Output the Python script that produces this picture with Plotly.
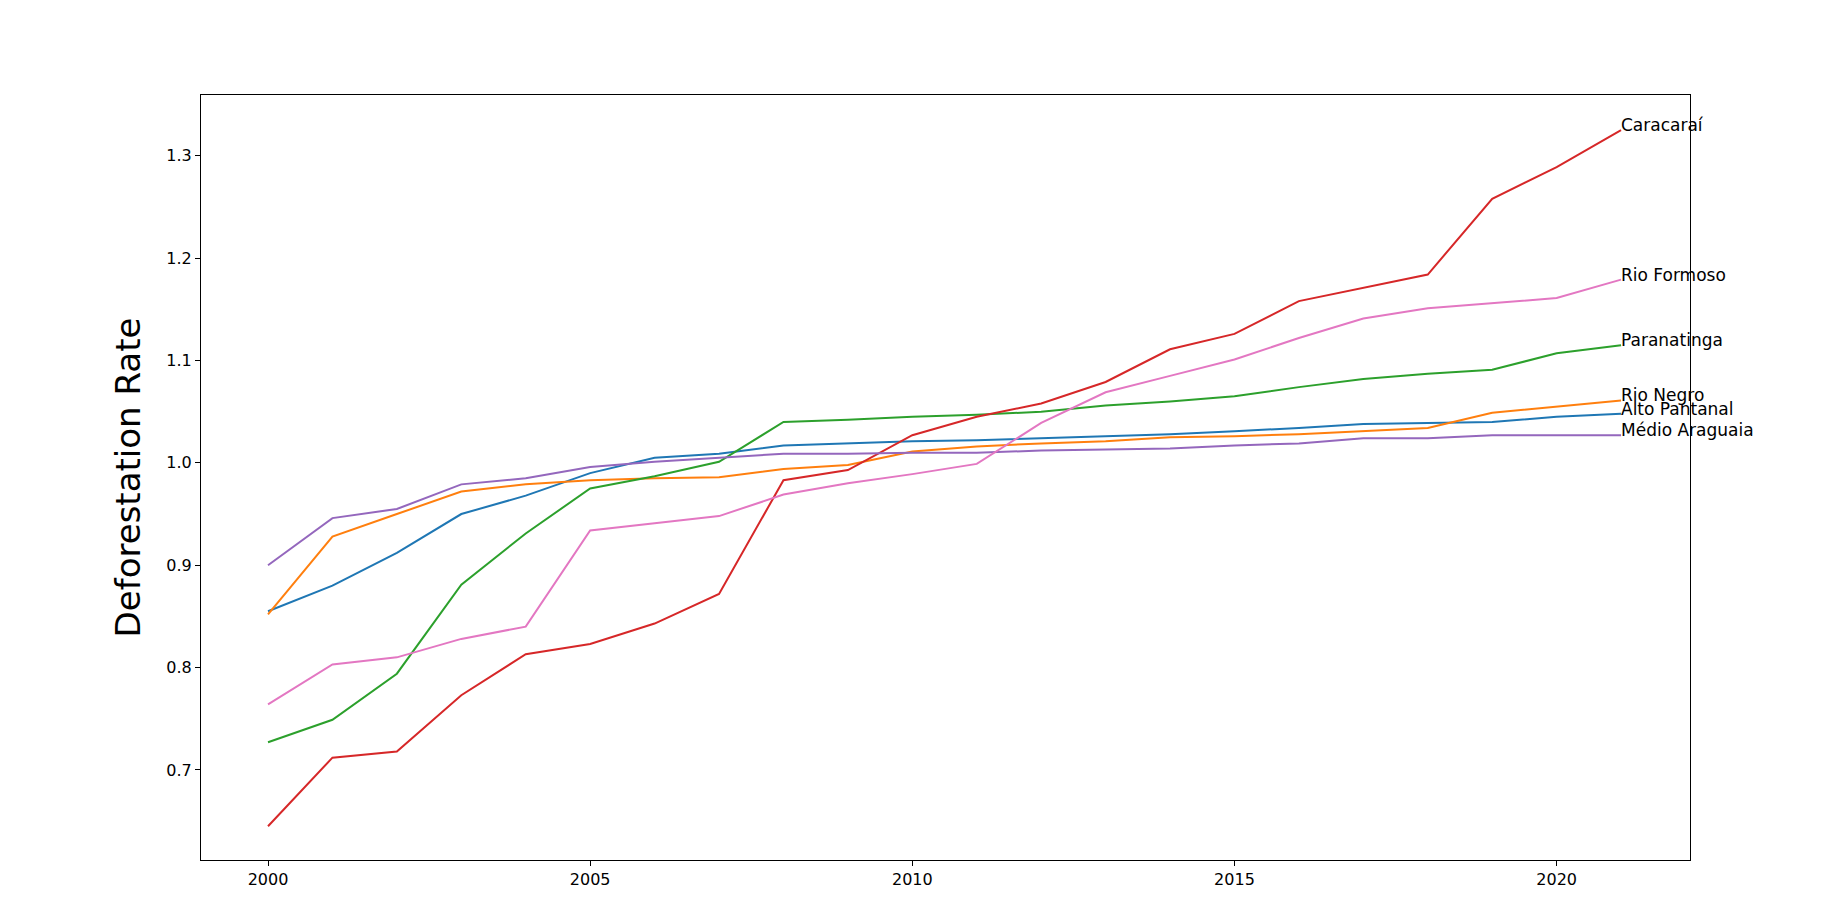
import plotly.graph_objects as go

years = list(range(2000, 2022))

alto_pantanal = [0.855, 0.880, 0.912, 0.950, 0.968, 0.990, 1.005, 1.009, 1.017, 1.019, 1.021,
                 1.022, 1.024, 1.026, 1.028, 1.031, 1.034, 1.038, 1.039, 1.040, 1.045, 1.048]
rio_negro = [0.852, 0.928, 0.950, 0.972, 0.979, 0.983, 0.985, 0.986, 0.994, 0.998, 1.011,
             1.016, 1.019, 1.021, 1.025, 1.026, 1.028, 1.031, 1.034, 1.049, 1.055, 1.061]
paranatinga = [0.727, 0.749, 0.794, 0.881, 0.931, 0.975, 0.987, 1.001, 1.040, 1.042, 1.045,
               1.047, 1.050, 1.056, 1.060, 1.065, 1.074, 1.082, 1.087, 1.091, 1.107, 1.115]
caracarai = [0.645, 0.712, 0.718, 0.773, 0.813, 0.823, 0.843, 0.872, 0.983, 0.993, 1.027,
             1.045, 1.058, 1.079, 1.111, 1.126, 1.158, 1.171, 1.184, 1.258, 1.289, 1.325]
medio_araguaia = [0.900, 0.946, 0.955, 0.979, 0.985, 0.996, 1.001, 1.005, 1.009, 1.009, 1.010,
                  1.010, 1.012, 1.013, 1.014, 1.017, 1.019, 1.024, 1.024, 1.027, 1.027, 1.027]
rio_formoso = [0.764, 0.803, 0.810, 0.828, 0.840, 0.934, 0.941, 0.948, 0.969, 0.980, 0.989,
               0.999, 1.039, 1.069, 1.085, 1.101, 1.122, 1.141, 1.151, 1.156, 1.161, 1.179]

series = [
    ("Alto Pantanal", alto_pantanal, "#1f77b4"),
    ("Rio Negro", rio_negro, "#ff7f0e"),
    ("Paranatinga", paranatinga, "#2ca02c"),
    ("Caracaraí", caracarai, "#d62728"),
    ("Médio Araguaia", medio_araguaia, "#9467bd"),
    ("Rio Formoso", rio_formoso, "#e377c2"),
]

fig = go.Figure()
for name, vals, col in series:
    fig.add_trace(go.Scatter(x=years, y=vals, mode="lines", name=name,
                             line=dict(color=col, width=2)))
    # label at the end of each line, like plt.text(x, y, name)
    fig.add_annotation(x=years[-1], y=vals[-1], text=name, showarrow=False,
                       xanchor="left", yanchor="middle", yshift=5, xshift=-2,
                       font=dict(size=17, color="black"))

axis = dict(showgrid=False, zeroline=False, showline=True, linecolor="black", mirror=True,
            ticks="outside", ticklen=5, tickcolor="black", tickfont=dict(size=16, color="black"))

fig.update_layout(
    width=1836, height=919, plot_bgcolor="white", paper_bgcolor="white",
    showlegend=False,
    font=dict(family="DejaVu Sans"),
    margin=dict(l=193, r=154, t=87, b=67),
    xaxis=dict(range=[1998.96, 2022.07], tickvals=[2000, 2005, 2010, 2015, 2020], **axis),
    yaxis=dict(range=[0.612, 1.3594], tickvals=[0.7, 0.8, 0.9, 1.0, 1.1, 1.2, 1.3],
               tickformat=".1f", title=dict(text="Deforestation Rate", font=dict(size=34, color="black")),
               **axis),
)

fig.write_html("out.html")
